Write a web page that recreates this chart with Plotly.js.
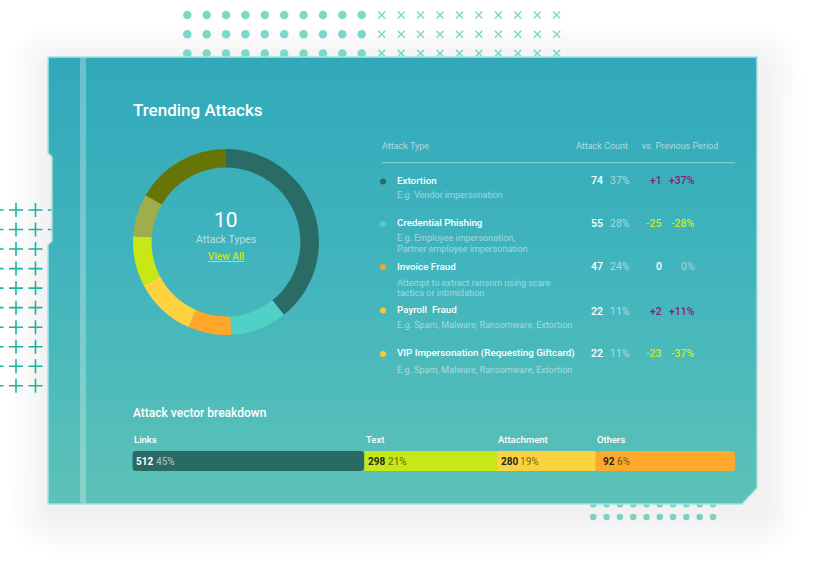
<!DOCTYPE html>
<html><head><meta charset="utf-8">
<script src="https://cdn.plot.ly/plotly-3.0.1.min.js"></script>
<style>html,body{margin:0;padding:0;background:#fff;} #chart{width:828px;height:564px;}</style>
</head><body><div id="chart"></div>
<script>
// ---------------- data ----------------
const donutLabels = ['Extortion','Credential Phishing','Invoice Fraud','Payroll Fraud','VIP Impersonation','Other','Unclassified'];
const donutValues = [39.3, 9.8, 7.5, 10.7, 8.7, 7.4, 16.6];
const donutColors = ['#2a6b66','#4fd1c5','#ffa62b','#ffd23f','#c8e816','#9fad4b','#677507'];
const totalTypes = 10;

const attackTypes = ['Extortion','Credential Phishing','Invoice Fraud','Payroll&nbsp;&nbsp;Fraud','VIP Impersonation (Requesting Giftcard)'];
const attackDescs = [
  ['E.g. Vendor impersonation'],
  ['E.g. Employee impersonation,','Partner employee impersonation'],
  ['Attempt to extract ransom using scare','tactics or intimidation'],
  ['E.g. Spam, Malware, Ransomware, Extortion'],
  ['E.g. Spam, Malware, Ransomware, Extortion']
];
const attackCounts = [74, 55, 47, 22, 22];
const attackShares = ['37%','28%','24%','11%','11%'];
const deltaCounts = [1, -25, 0, 2, -23];
const deltaPcts = [37, -28, 0, 11, -37];
const bulletColors = ['#2a6b66','#4fd1c5','#f5a524','#fcc935','#fcc935'];

const vectorNames = ['Links','Text','Attachment','Others'];
const vectorCounts = ['512','298','280','92'];
const vectorPcts = ['45%','21%','19%','6%'];
const vectorBarShare = [38.5, 22.0, 16.4, 23.1];
const vectorColors = ['#296a65','#c6e816','#fdd23f','#fea82c'];

// ---------------- layout helpers ----------------
const W = 828, H = 564;
const FONT = 'Roboto, "Open Sans", sans-serif';
const rowY   = [180, 222, 266, 309, 353];
const numY   = [180, 223.5, 266, 311, 353.5];
const descY  = [194.5, 238, 282.5, 324.5, 370];
const bulY   = [181.5, 224, 267, 310.5, 354];

const traces = [];
// soft rounded shadow behind the card
function roundRect(x0, y0, x1, y1, r) {
  const X = [], Y = [];
  const corners = [[x1 - r, y0 + r, -90], [x1 - r, y1 - r, 0], [x0 + r, y1 - r, 90], [x0 + r, y0 + r, 180]];
  corners.forEach(([cx, cy, a0]) => {
    for (let s = 0; s <= 8; s++) {
      const a = (a0 + s * 90 / 8) * Math.PI / 180;
      X.push(cx + r * Math.cos(a)); Y.push(cy + r * Math.sin(a));
    }
  });
  X.push(X[0]); Y.push(Y[0]);
  return {X, Y};
}
for (let k = 1; k <= 14; k++) {
  const e = k * 3, dx = 3, dy = 9;
  const rr = roundRect(48 - e + dx, 57 - e + dy, 757 + e + dx, 504 + e + dy, e + 2);
  traces.push({type:'scatter', mode:'lines', x:rr.X, y:rr.Y,
    fill:'toself', fillcolor:'rgba(0,0,0,0.0058)', line:{width:0}, hoverinfo:'skip', showlegend:false});
}
// decorations
function grid(xs0, dx, nx, ys0, dy, ny) {
  const X = [], Y = [];
  for (let j = 0; j < ny; j++) for (let i = 0; i < nx; i++) { X.push(xs0 + i*dx); Y.push(ys0 + j*dy); }
  return {X, Y};
}
let g = grid(187.3, 19.38, 10, 15, 19.2, 3);
traces.push({type:'scatter', mode:'markers', x:g.X, y:g.Y, marker:{symbol:'circle', size:8.5, color:'#7ed8c9'}, hoverinfo:'skip', showlegend:false});
g = grid(381.7, 19.44, 10, 15, 19.2, 3);
traces.push({type:'scatter', mode:'markers', x:g.X, y:g.Y, marker:{symbol:'x-thin', size:7, line:{width:1.6, color:'#82d8d0'}}, hoverinfo:'skip', showlegend:false});
g = grid(-3.5, 19.5, 4, 210, 19.53, 10);
traces.push({type:'scatter', mode:'markers', x:g.X, y:g.Y, marker:{symbol:'cross-thin', size:10, line:{width:1.6, color:'#1ab39d'}}, hoverinfo:'skip', showlegend:false});
g = grid(593.3, 13.3, 10, 504.3, 12.8, 2);
traces.push({type:'scatter', mode:'markers', x:g.X, y:g.Y, marker:{symbol:'circle', size:6.5, color:'#7fd0c4'}, hoverinfo:'skip', showlegend:false});
// card panel
traces.push({type:'scatter', mode:'lines',
  x:[48, 757, 757, 742, 48, 48, 52, 52, 48, 48],
  y:[57, 57, 488, 504, 504, 245, 241, 157, 153, 57],
  fill:'toself', fillgradient:{type:'vertical', start:57, stop:504, colorscale:[[0,'#31a9ba'],[0.5,'#42b5bd'],[1,'#5dc2b6']]},
  line:{width:1.5, color:'#a3e5e6'}, hoverinfo:'skip', showlegend:false});

// donut
traces.push({type:'pie', values:donutValues, labels:donutLabels, marker:{colors:donutColors, line:{width:0}},
  hole:0.8, sort:false, direction:'clockwise', rotation:0, textinfo:'none', hoverinfo:'skip', showlegend:false,
  domain:{x:[133/W, 319/W], y:[(H-335)/H, (H-149)/H]}});

// stacked breakdown bar
const shareTotal = vectorBarShare.reduce((a,b)=>a+b, 0);
const starts = [];
let acc = 0;
vectorBarShare.forEach(v => { starts.push(acc); acc += v; });
vectorBarShare.forEach((v, i) => {
  const first = i === 0, last = i === vectorBarShare.length - 1;
  traces.push({type:'bar', orientation:'h', xaxis:'x2', yaxis:'y2', y:[0], width:[1],
    x:[first ? -v : v], base:[first ? starts[i] + v : starts[i]],
    marker:{color:vectorColors[i], line:{width:0}, cornerradius:(first || last) ? 4 : 0},
    hoverinfo:'skip', showlegend:false});
});

// ---------------- annotations ----------------
const ann = [];
function txt(x, y, text, size, color, o = {}) {
  ann.push(Object.assign({x, y, xref:'x', yref:'y', text, showarrow:false, xanchor:'left', yanchor:'middle',
    borderpad:0, borderwidth:0,
    font:{family:FONT, size, color, weight:o.weight || 400, lineposition:o.under ? 'under' : 'none'}}, o.extra || {}));
}
txt(133, 110, 'Trending Attacks', 17, '#ffffff', {weight:500});
txt(226, 220, String(totalTypes), 21, '#ffffff', {extra:{xanchor:'center'}});
txt(226, 239.5, 'Attack Types', 10.5, 'rgba(255,255,255,0.62)', {extra:{xanchor:'center'}});
txt(226, 256, 'View All', 10, '#c8e629', {under:true, weight:500, extra:{xanchor:'center'}});

const HDR = 'rgba(255,255,255,0.58)';
txt(382, 146, 'Attack Type', 9, HDR);
txt(628, 146, 'Attack Count', 9, HDR, {extra:{xanchor:'right'}});
txt(642, 146, 'vs. Previous Period', 9, HDR);

const PURPLE = '#8c1b6c', LIME = '#c8ec1f';
attackTypes.forEach((t, i) => {
  txt(397, rowY[i], t, 9.8, '#ffffff', {weight:500});
  attackDescs[i].forEach((d, k) => txt(397, descY[i] + k*10.6, d, 9, 'rgba(255,255,255,0.5)'));
  txt(603, numY[i], String(attackCounts[i]), 10.5, '#ffffff', {weight:500, extra:{xanchor:'right'}});
  txt(609.5, numY[i], attackShares[i], 10.5, 'rgba(255,255,255,0.55)');
  const dc = deltaCounts[i], dp = deltaPcts[i];
  const col = dc > 0 ? PURPLE : (dc < 0 ? LIME : '#ffffff');
  const colP = dp > 0 ? PURPLE : (dp < 0 ? LIME : 'rgba(255,255,255,0.5)');
  txt(662, numY[i], (dc > 0 ? '+' : '') + dc, 10.5, col, {weight:500, extra:{xanchor:'right'}});
  txt(695, numY[i], (dp > 0 ? '+' : '') + dp + '%', 10.5, colP, {weight:dp === 0 ? 400 : 500, extra:{xanchor:'right'}});
});

txt(133, 412.5, 'Attack vector breakdown', 12, '#ffffff', {weight:500});
vectorNames.forEach((n, i) => {
  const base = {xref:'x2', yref:'y', showarrow:false, xanchor:'left', yanchor:'middle', borderpad:0, borderwidth:0};
  ann.push(Object.assign({}, base, {x:starts[i], y:439, xshift:1.5, text:n,
    font:{family:FONT, size:9.5, color:'#ffffff', weight:500}}));
  ann.push(Object.assign({}, base, {x:starts[i], y:461, xshift:i === 3 ? 7.5 : 4, text:vectorCounts[i],
    font:{family:FONT, size:10, color:i === 0 ? '#ffffff' : '#1d2a22', weight:700}}));
  ann.push(Object.assign({}, base, {x:starts[i], y:461, xshift:i === 3 ? 21 : 23.5, text:vectorPcts[i],
    font:{family:FONT, size:10, color:i === 0 ? 'rgba(255,255,255,0.55)' : 'rgba(40,30,0,0.55)', weight:500}}));
});

// ---------------- shapes ----------------
const shapes = [
  {type:'rect', xref:'x', yref:'y', x0:80, x1:86, y0:57.8, y1:503.2, fillcolor:'rgba(255,255,255,0.28)', line:{width:0}, layer:'above'},
  {type:'line', xref:'x', yref:'y', x0:382, x1:735, y0:162.7, y1:162.7, line:{color:'rgba(255,255,255,0.45)', width:1}, layer:'above'}
];
bulletColors.forEach((c, i) => shapes.push({type:'circle', xref:'x', yref:'y', x0:380, x1:386, y0:bulY[i]-3, y1:bulY[i]+3,
  fillcolor:c, line:{width:0}, layer:'above'}));

const layout = {
  width:W, height:H, margin:{l:0, r:0, t:0, b:0}, paper_bgcolor:'#ffffff', plot_bgcolor:'rgba(0,0,0,0)',
  showlegend:false, barmode:'overlay', dragmode:false, hovermode:false,
  xaxis:{range:[0, W], domain:[0, 1], visible:false, fixedrange:true},
  yaxis:{range:[H, 0], domain:[0, 1], visible:false, fixedrange:true},
  xaxis2:{range:[0, shareTotal], domain:[132.3/W, 735/W], anchor:'y2', visible:false, fixedrange:true},
  yaxis2:{range:[-0.5, 0.5], domain:[(H-471)/H, (H-451)/H], anchor:'x2', visible:false, fixedrange:true},
  annotations:ann, shapes:shapes
};
Plotly.newPlot('chart', traces, layout, {staticPlot:true, displayModeBar:false});
</script></body></html>
